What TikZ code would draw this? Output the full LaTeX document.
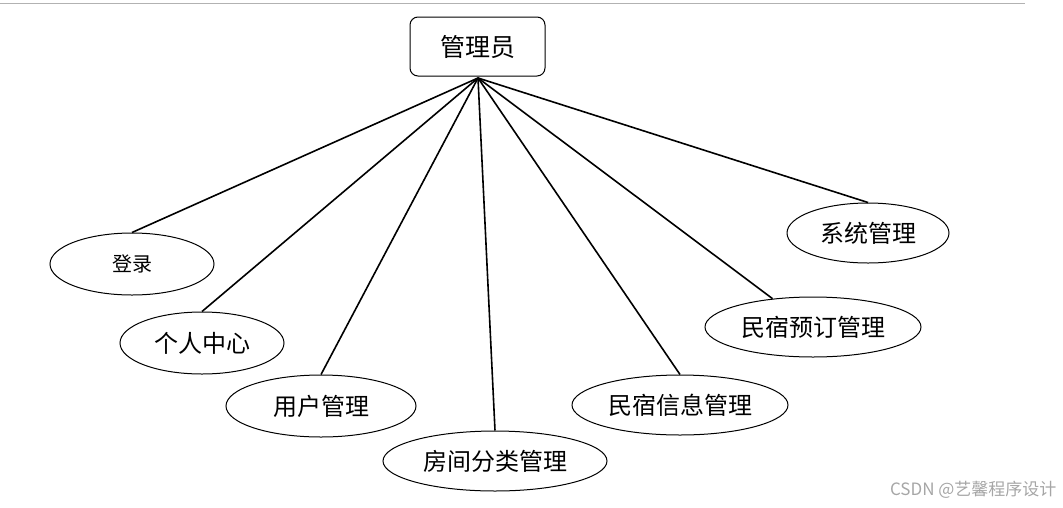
\documentclass[tikz,border=0pt]{standalone}
\usepackage{fontspec}
\newfontfamily\cjk{Noto Sans CJK SC}
\usetikzlibrary{shapes.geometric}
\begin{document}
\begin{tikzpicture}[x=1pt,y=-1pt,
  leaf/.style={draw,ellipse,line width=1pt,inner sep=0pt,font=\cjk\fontsize{24}{26}\selectfont},
  link/.style={line width=1.6pt}]
\useasboundingbox (0,0) rectangle (1063,507);
\draw[gray!60,line width=0.8pt] (0,3) -- (1025,3);
\node[draw,rounded corners=8pt,minimum width=135pt,minimum height=59pt,line width=1pt,font=\cjk\fontsize{25}{27}\selectfont] (root) at (477.5,46.5) {管理员};
\coordinate (h) at (478,78);
\node[leaf,minimum width=164pt,minimum height=62pt,font=\cjk\fontsize{20}{22}\selectfont] (e1) at (132,264) {登录};
\node[leaf,minimum width=164pt,minimum height=62pt] (e2) at (202,343) {个人中心};
\node[leaf,minimum width=190pt,minimum height=62pt] (e3) at (321,406) {用户管理};
\node[leaf,minimum width=224pt,minimum height=60pt] (e4) at (495,461) {房间分类管理};
\node[leaf,minimum width=216pt,minimum height=60pt] (e5) at (680,405) {民宿信息管理};
\node[leaf,minimum width=216pt,minimum height=60pt] (e6) at (813,327) {民宿预订管理};
\node[leaf,minimum width=162pt,minimum height=60pt] (e7) at (868,233) {系统管理};
\draw[link] (h) -- (e1.north);
\draw[link] (h) -- (e2.north);
\draw[link] (h) -- (e3.north);
\draw[link] (h) -- (e4.north);
\draw[link] (h) -- (e5.north);
\draw[link] (h) -- (e6.145);
\draw[link] (h) -- (e7.north);
\node[gray!70,font=\cjk\fontsize{17}{19}\selectfont,anchor=east] (wm) at (1060,490) {CSDN @艺馨程序设计};
\end{tikzpicture}
\end{document}
